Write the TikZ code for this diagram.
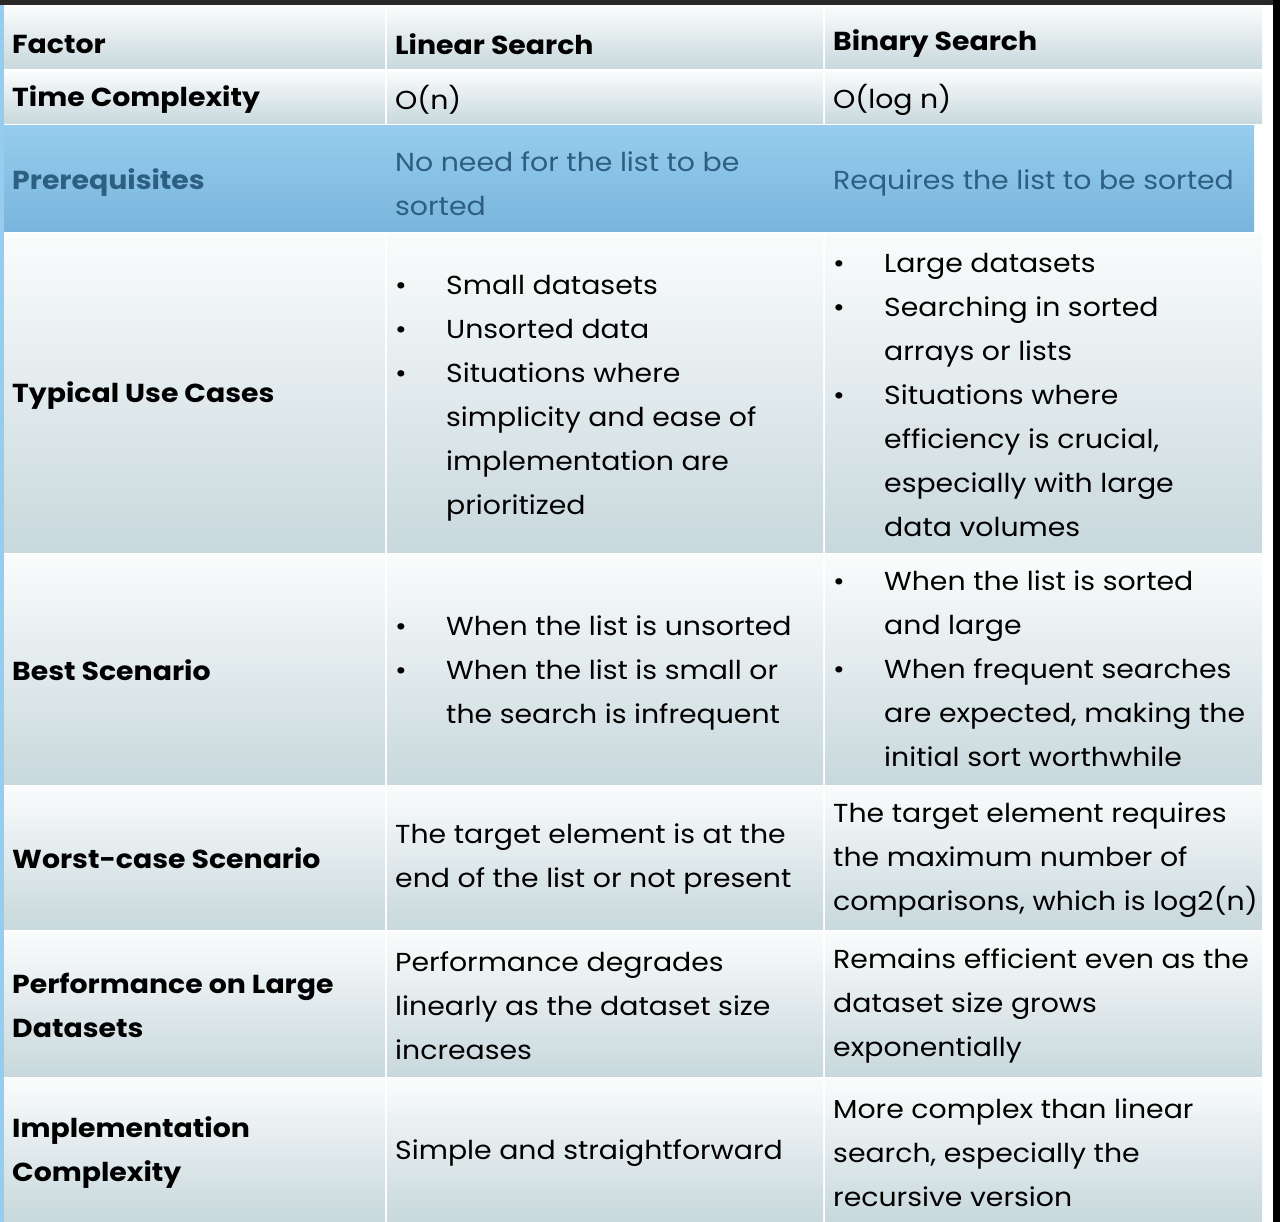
\documentclass[tikz,border=0pt]{standalone}
\usepackage{fontspec}
\setmainfont{Poppins}[FakeStretch=1.09]
\newcommand\cf{\fontsize{26}{44}\selectfont}
\newcommand\bul[1]{\begin{tabular}{@{}p{51pt}@{}l@{}}#1\end{tabular}}
\definecolor{bltop}{RGB}{150,205,238}
\definecolor{blbot}{RGB}{120,180,220}
\definecolor{bltxt}{RGB}{45,95,130}
\definecolor{cltop}{RGB}{250,252,252}
\definecolor{clbot}{RGB}{200,216,220}
\begin{document}
\begin{tikzpicture}[x=1pt,y=-1pt,
  cellbg/.style={top color=cltop,bottom color=clbot,draw=none},
  bluebg/.style={top color=bltop,bottom color=blbot,draw=none},
  txt/.style={anchor=west,inner sep=0pt,align=left,font=\cf,text=black},
  hd/.style={txt,font=\cf\bfseries},
  bt/.style={txt,text=bltxt}]
\useasboundingbox (0,0) rectangle (1280,1222);
\fill[white] (0,0) rectangle (1280,1222);
\fill[black!80!cyan!20!black] (0,0) rectangle (1280,5);
\fill[black] (1273,0) rectangle (1280,1222);
\fill[bltop] (0,5) rectangle (4,1222);
% rows
\foreach \ya/\yb in {5/70,70/125,233/553,553/785,785/930,930/1077,1077/1222}{
  \shade[cellbg] (4,\ya+1) rectangle (385,\yb-1);
  \shade[cellbg] (387,\ya+1) rectangle (823,\yb-1);
  \shade[cellbg] (825,\ya+1) rectangle (1262,\yb-1);
}
\shade[bluebg] (4,126) rectangle (1254,232);
% header
\node[hd] (h1) at (12,44) {Factor};
\node[hd] (h2) at (395,44) {Linear Search};
\node[hd] (h3) at (833,44) {Binary Search};
\node[hd] (r1) at (12,100) {Time Complexity};
\node[txt] (r1b) at (395,100) {O(n)};
\node[txt] (r1c) at (833,100) {O(log n)};
\node[hd,text=bltxt] (r2) at (12,183) {Prerequisites};
\node[bt] (r2b) at (395,184) {No need for the list to be\\sorted};
\node[bt] (r2c) at (833,183) {Requires the list to be sorted};
\node[hd] (r3) at (12,396) {Typical Use Cases};
\node[txt] (r3b) at (395,396) {\bul{•&Small datasets\\•&Unsorted data\\•&Situations where\\&simplicity and ease of\\&implementation are\\&prioritized}};
\node[txt] (r3c) at (833,396) {\bul{•&Large datasets\\•&Searching in sorted\\&arrays or lists\\•&Situations where\\&efficiency is crucial,\\&especially with large\\&data volumes}};
\node[hd] (r4) at (12,670) {Best Scenario};
\node[txt] (r4b) at (395,671) {\bul{•&When the list is unsorted\\•&When the list is small or\\&the search is infrequent}};
\node[txt] (r4c) at (833,670) {\bul{•&When the list is sorted\\&and large\\•&When frequent searches\\&are expected, making the\\&initial sort worthwhile}};
\node[hd] (r5) at (12,858) {Worst-case Scenario};
\node[txt] (r5b) at (395,859) {The target element is at the\\end of the list or not present};
\node[txt] (r5c) at (833,860) {The target element requires\\the maximum number of\\comparisons, which is log2(n)};
\node[hd] (r6) at (12,1005) {Performance on Large\\Datasets};
\node[txt] (r6b) at (395,1006) {Performance degrades\\linearly as the dataset size\\increases};
\node[txt] (r6c) at (833,1006) {Remains efficient even as the\\dataset size grows\\exponentially};
\node[hd] (r7) at (12,1153) {Implementation\\Complexity};
\node[txt] (r7b) at (395,1153) {Simple and straightforward};
\node[txt] (r7c) at (833,1153) {More complex than linear\\search, especially the\\recursive version};
\end{tikzpicture}
\end{document}
